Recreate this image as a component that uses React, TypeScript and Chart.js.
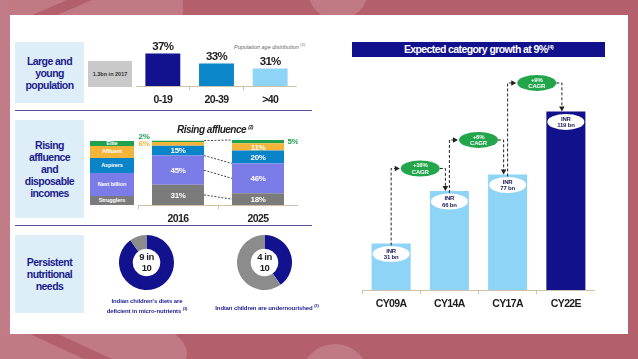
import React, { useEffect, useRef } from "react";
import { Chart, registerables } from "chart.js";

Chart.register(...registerables);

const FONT = '"Liberation Sans", Arial, sans-serif';

// ---- Population age distribution ----
const ageCategories = ["0-19", "20-39", ">40"];
const ageShares = [37, 33, 31];
const ageColors = ["#12128f", "#0a86c9", "#8dd4f7"];

// ---- Rising affluence ----
const affluenceYears = ["2016", "2025"];
const affluenceSegments = ["Strugglers", "Next billion", "Aspirers", "Affluent", "Elite"];
const strugglers = [31, 18];
const nextBillion = [45, 46];
const aspirers = [15, 20];
const affluent = [6, 11];
const elite = [2, 5];
const segmentColors = ["#7b7b7b", "#7c7ce8", "#0a84c8", "#f4b43a", "#1fa14f"];

// ---- Nutrition ----
const dietDeficient = [9, 1];
const undernourished = [4, 6];
const donutColors = ["#12128f", "#8c8c8c"];

// ---- Category growth ----
const growthPeriods = ["CY09A", "CY14A", "CY17A", "CY22E"];
const growthValues = [31, 66, 77, 119];
const growthColors = ["#8dd4f7", "#8dd4f7", "#8dd4f7", "#11118c"];
const cagrLabels = ["+16%", "+6%", "+9%"];
const cagrLevels = [81, 100, 138];

const NAVY = "#1c1c8e";

const tightText = {
  id: "tightText",
  beforeDraw(chart: any) {
    chart.ctx.letterSpacing = "-0.6px";
  },
};

function ChartCanvas({ left, top, width, height, build }: any) {
  const ref = useRef<HTMLCanvasElement>(null);
  useEffect(() => {
    const cfg = build();
    cfg.plugins = [tightText, ...(cfg.plugins || [])];
    const chart = new Chart(ref.current as HTMLCanvasElement, cfg);
    return () => chart.destroy();
  }, []);
  return (
    <canvas
      ref={ref}
      width={width}
      height={height}
      style={{ position: "absolute", left, top, width, height, display: "block" }}
    />
  );
}

const axisX = (size: number) => ({
  grid: { display: true, drawOnChartArea: false, drawTicks: true, tickLength: 4, color: "#cfc3a5", offset: true },
  border: { display: true, color: "#cfc3a5", width: 1 },
  ticks: { color: "#1e1e1e", font: { family: FONT, size, weight: "bold" }, padding: 4 },
  afterFit: (s: any) => {
    s.height = 25;
  },
});

const baseOpts = {
  animation: false,
  responsive: false,
  maintainAspectRatio: false,
  events: [],
  plugins: { legend: { display: false }, tooltip: { enabled: false } },
};

// ---------- Age chart ----------
const ageLabelsPlugin = {
  id: "ageLabels",
  afterDatasetsDraw(chart: any) {
    const { ctx } = chart;
    const meta = chart.getDatasetMeta(0);
    ctx.save();
    ctx.fillStyle = "#1e1e1e";
    ctx.font = `bold 11.5px ${FONT}`;
    ctx.letterSpacing = "-0.7px";
    ctx.textAlign = "center";
    ctx.textBaseline = "bottom";
    meta.data.forEach((bar: any, i: number) => {
      ctx.fillText(`${ageShares[i]}%`, bar.x, bar.y - 1);
    });
    ctx.restore();
  },
};

const buildAge = () => ({
  type: "bar",
  data: {
    labels: ageCategories,
    datasets: [{ data: ageShares, backgroundColor: ageColors, barPercentage: 0.65, categoryPercentage: 1 }],
  },
  options: {
    ...baseOpts,
    layout: { padding: { top: 5, left: 0, right: 0, bottom: 0 } },
    scales: { x: axisX(10.5), y: { display: false, min: 24, max: 42 } },
  },
  plugins: [ageLabelsPlugin],
});

// ---------- Affluence chart ----------
const affluencePlugin = {
  id: "affluenceLabels",
  afterDatasetsDraw(chart: any) {
    const { ctx } = chart;
    ctx.save();
    const m = (d: number) => chart.getDatasetMeta(d).data;
    const b0 = m(4)[0], b1 = m(4)[1];
    const r0 = b0.x + b0.width / 2;
    const l1 = b1.x - b1.width / 2;
    const mid = (e: any) => (e.y + e.base) / 2;
    const lines = [
      [m(4)[0].y, m(4)[1].y],
      [m(1)[0].y, m(1)[1].y],
      [mid(m(1)[0]), mid(m(1)[1])],
      [mid(m(0)[0]), mid(m(0)[1])],
    ];
    ctx.strokeStyle = "#444";
    ctx.lineWidth = 1;
    ctx.setLineDash([2, 1.5]);
    lines.forEach(([ya, yb]) => {
      ctx.beginPath();
      ctx.moveTo(r0, ya);
      ctx.lineTo(l1, yb);
      ctx.stroke();
    });
    ctx.setLineDash([]);
    ctx.textAlign = "center";
    ctx.textBaseline = "middle";
    ctx.font = `bold 8px ${FONT}`;
    ctx.letterSpacing = "-0.4px";
    const series = [strugglers, nextBillion, aspirers, affluent, elite];
    series.forEach((vals, d) => {
      m(d).forEach((bar: any, j: number) => {
        const v = vals[j];
        const cy = mid(bar);
        if (v >= 10) {
          ctx.fillStyle = "#ffffff";
          ctx.fillText(`${v}%`, bar.x, cy + 0.5);
        } else {
          ctx.fillStyle = segmentColors[d];
          if (j === 0) {
            const shift = d === 4 ? -4.5 : 0;
            ctx.fillText(`${v}%`, bar.x - bar.width / 2 - 8, cy + shift);
          } else {
            ctx.fillText(`${v}%`, bar.x + bar.width / 2 + 9, cy);
          }
        }
      });
    });
    ctx.restore();
  },
};

const buildAffluence = () => ({
  type: "bar",
  data: {
    labels: affluenceYears,
    datasets: [strugglers, nextBillion, aspirers, affluent, elite].map((vals, i) => ({
      label: affluenceSegments[i],
      data: vals,
      backgroundColor: segmentColors[i],
      barPercentage: 0.65,
      categoryPercentage: 1,
    })),
  },
  options: {
    ...baseOpts,
    layout: { padding: { top: 10, left: 0, right: 0, bottom: 0 } },
    scales: {
      x: { ...axisX(10.5), stacked: true },
      y: { display: false, stacked: true, min: 0, max: 100 },
    },
  },
  plugins: [affluencePlugin],
});

// ---------- Donuts ----------
const buildDonut = (values: number[], line1: string, line2: string) => () => ({
  type: "doughnut",
  data: {
    labels: ["share", "rest"],
    datasets: [{ data: values, backgroundColor: donutColors, borderWidth: 0 }],
  },
  options: {
    ...baseOpts,
    cutout: "50%",
    layout: { padding: 0 },
  },
  plugins: [
    {
      id: "centerText",
      afterDraw(chart: any) {
        const { ctx, chartArea } = chart;
        const cx = (chartArea.left + chartArea.right) / 2;
        const cy = (chartArea.top + chartArea.bottom) / 2;
        ctx.save();
        ctx.fillStyle = "#222";
        ctx.font = `bold 9.5px ${FONT}`;
        ctx.letterSpacing = "-0.5px";
        ctx.textAlign = "center";
        ctx.textBaseline = "middle";
        ctx.fillText(line1, cx, cy - 5);
        ctx.fillText(line2, cx, cy + 5.5);
        ctx.restore();
      },
    },
  ],
});

// ---------- Growth chart ----------
function arrowHead(ctx: any, x: number, y: number, dir: "right" | "down") {
  ctx.beginPath();
  if (dir === "right") {
    ctx.moveTo(x, y);
    ctx.lineTo(x - 5, y - 2.8);
    ctx.lineTo(x - 5, y + 2.8);
  } else {
    ctx.moveTo(x, y);
    ctx.lineTo(x - 2.8, y - 5);
    ctx.lineTo(x + 2.8, y - 5);
  }
  ctx.closePath();
  ctx.fill();
}

const growthPlugin = {
  id: "growthAnnotations",
  afterDatasetsDraw(chart: any) {
    const { ctx } = chart;
    const meta = chart.getDatasetMeta(0);
    const yScale = chart.scales.y;
    ctx.save();
    for (let i = 0; i < meta.data.length - 1; i++) {
      const a = meta.data[i];
      const b = meta.data[i + 1];
      const ey = yScale.getPixelForValue(cagrLevels[i]);
      const ex = (a.x + b.x) / 2;
      const rx = 19.5;
      const ry = 8;
      const downX = b.x - 4;
      ctx.strokeStyle = "#222";
      ctx.fillStyle = "#222";
      ctx.lineWidth = 1;
      ctx.setLineDash([3, 2]);
      ctx.beginPath();
      ctx.moveTo(a.x, a.y + 2);
      ctx.lineTo(a.x, ey);
      ctx.lineTo(ex - rx - 4, ey);
      ctx.stroke();
      ctx.beginPath();
      ctx.moveTo(ex + rx, ey);
      ctx.lineTo(downX, ey);
      ctx.lineTo(downX, b.y - 4);
      ctx.stroke();
      ctx.setLineDash([]);
      arrowHead(ctx, ex - rx - 1, ey, "right");
      arrowHead(ctx, downX, b.y, "down");
      ctx.fillStyle = "#23a64b";
      ctx.beginPath();
      ctx.ellipse(ex, ey, rx, ry, 0, 0, Math.PI * 2);
      ctx.fill();
      ctx.fillStyle = "#ffffff";
      ctx.font = `bold 6px ${FONT}`;
      ctx.letterSpacing = "-0.2px";
      ctx.textAlign = "center";
      ctx.textBaseline = "middle";
      ctx.fillText(cagrLabels[i], ex, ey - 3);
      ctx.fillText("CAGR", ex, ey + 3.5);
    }
    meta.data.forEach((bar: any, i: number) => {
      const cy = bar.y + 10.5;
      ctx.fillStyle = "#ffffff";
      ctx.beginPath();
      ctx.ellipse(bar.x, cy, 18.5, 8, 0, 0, Math.PI * 2);
      ctx.fill();
      ctx.fillStyle = "#1b1b55";
      ctx.font = `bold 6px ${FONT}`;
      ctx.letterSpacing = "-0.2px";
      ctx.textAlign = "center";
      ctx.textBaseline = "middle";
      ctx.fillText("INR", bar.x, cy - 3);
      ctx.fillText(`${growthValues[i]} bn`, bar.x, cy + 3.5);
    });
    ctx.restore();
  },
};

const buildGrowth = () => ({
  type: "bar",
  data: {
    labels: growthPeriods,
    datasets: [{ data: growthValues, backgroundColor: growthColors, barPercentage: 0.67, categoryPercentage: 1 }],
  },
  options: {
    ...baseOpts,
    layout: { padding: 0 },
    scales: { x: axisX(10.5), y: { display: false, min: 0, max: 153.3 } },
  },
  plugins: [growthPlugin],
});

// ---------- Layout helpers ----------
const abs = (left: number, top: number, width: number, height: number, extra: any = {}) => ({
  position: "absolute" as const,
  left,
  top,
  width,
  height,
  ...extra,
});

function LabelBox({ top, height, lines }: { top: number; height: number; lines: string[] }) {
  return (
    <div
      style={abs(15, top, 69, height, {
        background: "#ddeef9",
        display: "flex",
        flexDirection: "column",
        alignItems: "center",
        justifyContent: "center",
        color: NAVY,
        fontWeight: "bold",
        fontSize: 10.5,
        letterSpacing: "-0.55px",
        lineHeight: "12px",
        textAlign: "center",
      })}
    >
      {lines.map((l) => (
        <div key={l}>{l}</div>
      ))}
    </div>
  );
}

const legendHeights = [9, 23, 15, 12, 5];

export default function App() {
  let legendTop = 141;
  const legendItems = [4, 3, 2, 1, 0].map((i) => {
    const h = legendHeights[i];
    const item = (
      <div
        key={affluenceSegments[i]}
        style={abs(90, legendTop, 44, h - 0.5, {
          background: segmentColors[i],
          color: "#fff",
          fontWeight: "bold",
          fontSize: 5.5,
          letterSpacing: "-0.1px",
          display: "flex",
          alignItems: "center",
          justifyContent: "center",
          lineHeight: "5px",
        })}
      >
        {affluenceSegments[i]}
      </div>
    );
    legendTop += h;
    return item;
  });

  return (
    <div style={{ position: "absolute", left: 0, top: 0, width: 638, height: 359, overflow: "hidden", fontFamily: FONT }}>
      <svg width={638} height={359} style={{ position: "absolute", left: 0, top: 0 }}>
        <rect x={0} y={0} width={638} height={359} fill="#b3606c" />
        <polygon points="0,0 183,0 183,16 0,16" fill="#c17a84" />
        <polygon points="30,16 55,16 92,0 67,0" fill="#b3606c" />
        <circle cx={338} cy={-10} r={30} fill="#c17a84" />
        <rect x={0} y={0} width={10} height={359} fill="#c27c87" />
        <path d="M0,334 L175,334 Q190,346 186,359 L0,359 Z" fill="#c17a84" />
        <polygon points="30,334 58,334 112,359 84,359" fill="#b3606c" />
        <circle cx={335} cy={378} r={34} fill="#c17a84" />
      </svg>

      <div style={abs(10, 15, 618, 319, { background: "#ffffff" })} />

      {/* Row 1 */}
      <LabelBox top={42} height={61} lines={["Large and", "young", "population"]} />
      <div
        style={abs(88, 61, 44, 26, {
          background: "#c9c9c9",
          color: "#333",
          fontWeight: "bold",
          fontSize: 5.5,
          display: "flex",
          alignItems: "center",
          justifyContent: "center",
        })}
      >
        1.3bn in 2017
      </div>
      <div style={abs(234, 41, 80, 8, { fontSize: 5.5, fontStyle: "italic", color: "#666", lineHeight: "8px" })}>
        Population age distribution <sup style={{ fontSize: 4 }}>(1)</sup>
      </div>
      <ChartCanvas left={136} top={36} width={161} height={75} build={buildAge} />
      <div style={abs(15, 110, 297, 0, { borderTop: "1.5px solid #4f4f9c" })} />

      {/* Row 2 */}
      <LabelBox top={120} height={98} lines={["Rising", "affluence", "and", "disposable", "incomes"]} />
      {legendItems}
      <div
        style={abs(160, 120, 110, 14, {
          textAlign: "center",
          fontStyle: "italic",
          fontWeight: "bold",
          fontSize: 10,
          letterSpacing: "-0.5px",
          color: "#222",
          lineHeight: "14px",
        })}
      >
        Rising affluence <sup style={{ fontSize: 5 }}>(2)</sup>
      </div>
      <ChartCanvas left={138} top={130} width={160} height={100} build={buildAffluence} />
      <div style={abs(15, 225, 297, 0, { borderTop: "1.5px solid #4f4f9c" })} />

      {/* Row 3 */}
      <LabelBox top={235} height={78} lines={["Persistent", "nutritional", "needs"]} />
      <ChartCanvas left={119} top={235} width={55} height={55} build={buildDonut(dietDeficient, "9 in", "10")} />
      <ChartCanvas left={237} top={235} width={55} height={55} build={buildDonut(undernourished, "4 in", "10")} />
      <div
        style={abs(92, 297, 110, 18, {
          textAlign: "center",
          color: NAVY,
          fontWeight: "bold",
          fontSize: 6,
          letterSpacing: "-0.1px",
          lineHeight: "8px",
        })}
      >
        Indian children's diets are
        <br />
        deficient in micro-nutrients <sup style={{ fontSize: 4 }}>(3)</sup>
      </div>
      <div
        style={abs(207, 302, 120, 9, {
          textAlign: "center",
          color: NAVY,
          fontWeight: "bold",
          fontSize: 6,
          letterSpacing: "-0.1px",
          lineHeight: "8px",
        })}
      >
        Indian children are undernourished <sup style={{ fontSize: 4 }}>(3)</sup>
      </div>

      {/* Right: growth */}
      <div
        style={abs(352, 42, 253, 15, {
          background: "#11118e",
          color: "#fff",
          fontWeight: "bold",
          fontSize: 10.5,
          letterSpacing: "-0.6px",
          textAlign: "center",
          lineHeight: "15px",
        })}
      >
        Expected category growth at 9%<sup style={{ fontSize: 6, verticalAlign: "top", lineHeight: "10px" }}>(4)</sup>
      </div>
      <ChartCanvas left={362} top={60} width={233} height={255} build={buildGrowth} />
    </div>
  );
}
